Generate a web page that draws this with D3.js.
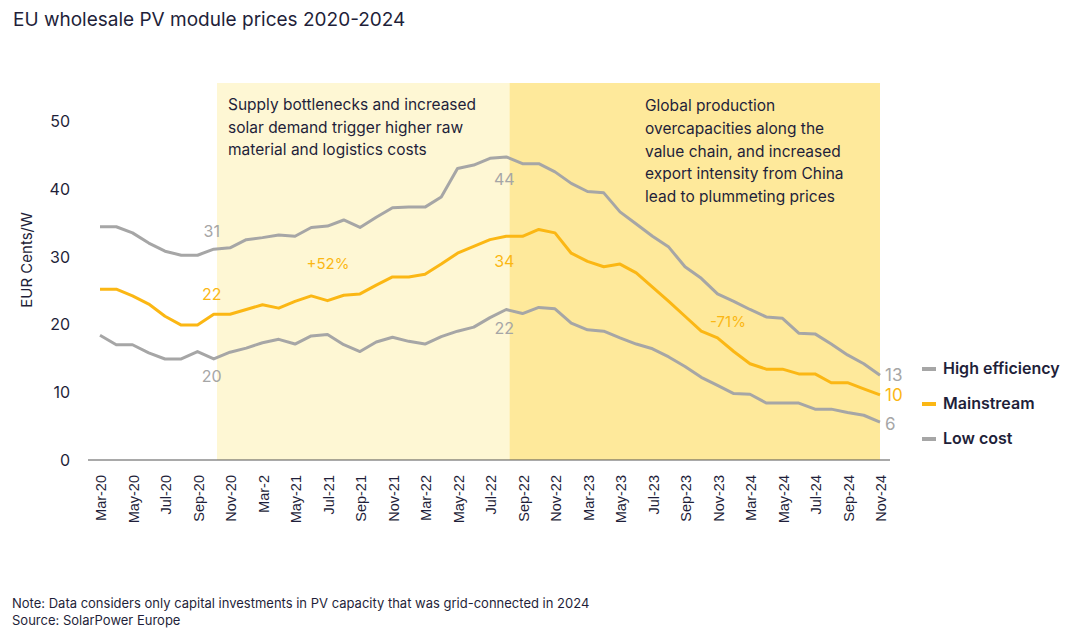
<!DOCTYPE html>
<html><head><meta charset="utf-8">
<script src="https://cdn.jsdelivr.net/npm/d3@7"></script>
<style>body{margin:0;background:#fff;font-family:Inter,"Noto Sans",sans-serif;}</style>
</head><body><svg id="c" width="1068" height="633"></svg>
<script>
const tickLabels = ["Mar-20","May-20","Jul-20","Sep-20","Nov-20","Mar-2","May-21","Jul-21","Sep-21","Nov-21","Mar-22","May-22","Jul-22","Sep-22","Nov-22","Mar-23","May-23","Jul-23","Sep-23","Nov-23","Mar-24","May-24","Jul-24","Sep-24","Nov-24"];
const highEfficiency = [34.4,34.4,33.5,32,30.8,30.2,30.2,31.1,31.3,32.5,32.8,33.2,33.0,34.3,34.5,35.4,34.3,35.8,37.2,37.3,37.3,38.8,43.0,43.5,44.5,44.7,43.7,43.7,42.5,40.8,39.6,39.4,36.6,34.8,33.0,31.4,28.5,26.8,24.5,23.4,22.2,21.1,20.9,18.7,18.6,17.1,15.5,14.2,12.5];
const mainstream = [25.2,25.2,24.2,23.0,21.2,19.9,19.9,21.5,21.5,22.2,22.9,22.4,23.4,24.2,23.5,24.3,24.5,25.8,27.0,27.0,27.4,28.9,30.5,31.5,32.5,33.0,33.0,34.0,33.5,30.5,29.3,28.5,28.9,27.6,25.5,23.4,21.2,19.0,18.0,16.0,14.2,13.4,13.4,12.7,12.7,11.4,11.4,10.5,9.6];
const lowCost = [18.4,17.0,17.0,15.8,14.9,14.9,16.0,14.9,15.9,16.5,17.3,17.8,17.1,18.3,18.5,17.0,16.0,17.4,18.1,17.5,17.1,18.2,19.0,19.6,21.0,22.2,21.6,22.5,22.3,20.2,19.2,19.0,18.0,17.1,16.4,15.2,13.8,12.2,11.0,9.8,9.7,8.4,8.4,8.4,7.5,7.5,7.0,6.6,5.6];
const yTicks = [0,10,20,30,40,50];
const phases = [{from:7.2,to:25.2,fill:"#fef7d4"},{from:25.2,to:48,fill:"#fee99b"}];
const seriesNames = ["High efficiency","Mainstream","Low cost"];
const colors = ["#a6a6a6","#fbb714","#a6a6a6"];
const valueLabels = [{s:0,i:7,t:"31",dy:-12},{s:1,i:7,t:"22",dy:-14},{s:2,i:7,t:"20",dy:23},{s:0,i:25,t:"44",dy:28},{s:1,i:25,t:"34",dy:31},{s:2,i:25,t:"22",dy:25}];

const svg = d3.select("#c");
const x = d3.scaleLinear().domain([0,48]).range([100,880]);
const y = d3.scaleLinear().domain([0,50]).range([460,121]);
const dark="#1f1f3a";
svg.append("text").attr("x",13).attr("y",26).attr("font-size",19).attr("fill",dark).text("EU wholesale PV module prices 2020-2024");
phases.forEach(p=>svg.append("rect").attr("x",x(p.from)).attr("width",x(p.to)-x(p.from)).attr("y",83).attr("height",460-83).attr("fill",p.fill));
svg.selectAll(".yt").data(yTicks).join("text").attr("x",70).attr("y",d=>y(d)+6).attr("text-anchor","end").attr("font-size",16).attr("fill",dark).text(d=>d);
svg.append("text").attr("transform","translate(32,260) rotate(-90)").attr("text-anchor","middle").attr("font-size",15).attr("fill",dark).text("EUR Cents/W");
svg.append("line").attr("x1",88).attr("x2",890).attr("y1",460).attr("y2",460).attr("stroke","#555").attr("stroke-width",1.2);
tickLabels.forEach((t,k)=>{
  svg.append("text").attr("transform",`translate(${x(k*2)+6},475) rotate(-90)`).attr("text-anchor","end").attr("font-family","Liberation Sans,Arial,sans-serif").attr("font-size",14.5).attr("fill",dark).text(t);
});
const ann1=["Supply bottlenecks and increased","solar demand trigger higher raw","material and logistics costs"];
ann1.forEach((t,k)=>svg.append("text").attr("x",228).attr("y",110+k*22.5).attr("font-size",15.5).attr("fill",dark).text(t));
const ann2=["Global production","overcapacities along the","value chain, and increased","export intensity from China","lead to plummeting prices"];
ann2.forEach((t,k)=>svg.append("text").attr("x",645).attr("y",111+k*22.8).attr("font-size",15.5).attr("fill",dark).text(t));
const line=d3.line().x((d,i)=>x(i)).y(d=>y(d));
const data=[highEfficiency,mainstream,lowCost];
data.forEach((s,k)=>svg.append("path").attr("d",line(s)).attr("fill","none").attr("stroke",colors[k]).attr("stroke-width",3).attr("stroke-linejoin","round"));
valueLabels.forEach(v=>svg.append("text").attr("x",x(v.i)-2).attr("y",y(data[v.s][v.i])+v.dy).attr("text-anchor","middle").attr("font-size",16).attr("fill",colors[v.s]).text(v.t));
svg.append("text").attr("x",328).attr("y",269).attr("text-anchor","middle").attr("font-size",15).attr("fill","#fbb714").text("+52%");
svg.append("text").attr("x",728).attr("y",327).attr("text-anchor","middle").attr("font-size",15).attr("fill","#fbb714").text("-71%");
const ends=["13","10","6"], endY=[381,401,430];
ends.forEach((t,k)=>svg.append("text").attr("x",885).attr("y",endY[k]).attr("font-size",17).attr("fill",colors[k]).text(t));
const legY=[368,403,438];
seriesNames.forEach((n,k)=>{
  svg.append("line").attr("x1",922).attr("x2",936).attr("y1",legY[k]+1).attr("y2",legY[k]+1).attr("stroke",colors[k]).attr("stroke-width",4);
  svg.append("text").attr("x",943).attr("y",legY[k]+6).attr("font-size",16).attr("font-weight",600).attr("fill",dark).text(n);
});
svg.append("text").attr("x",12).attr("y",608).attr("font-size",13).attr("fill",dark).text("Note: Data considers only capital investments in PV capacity that was grid-connected in 2024");
svg.append("text").attr("x",12).attr("y",625).attr("font-size",13).attr("fill",dark).text("Source: SolarPower Europe");
</script></body></html>
